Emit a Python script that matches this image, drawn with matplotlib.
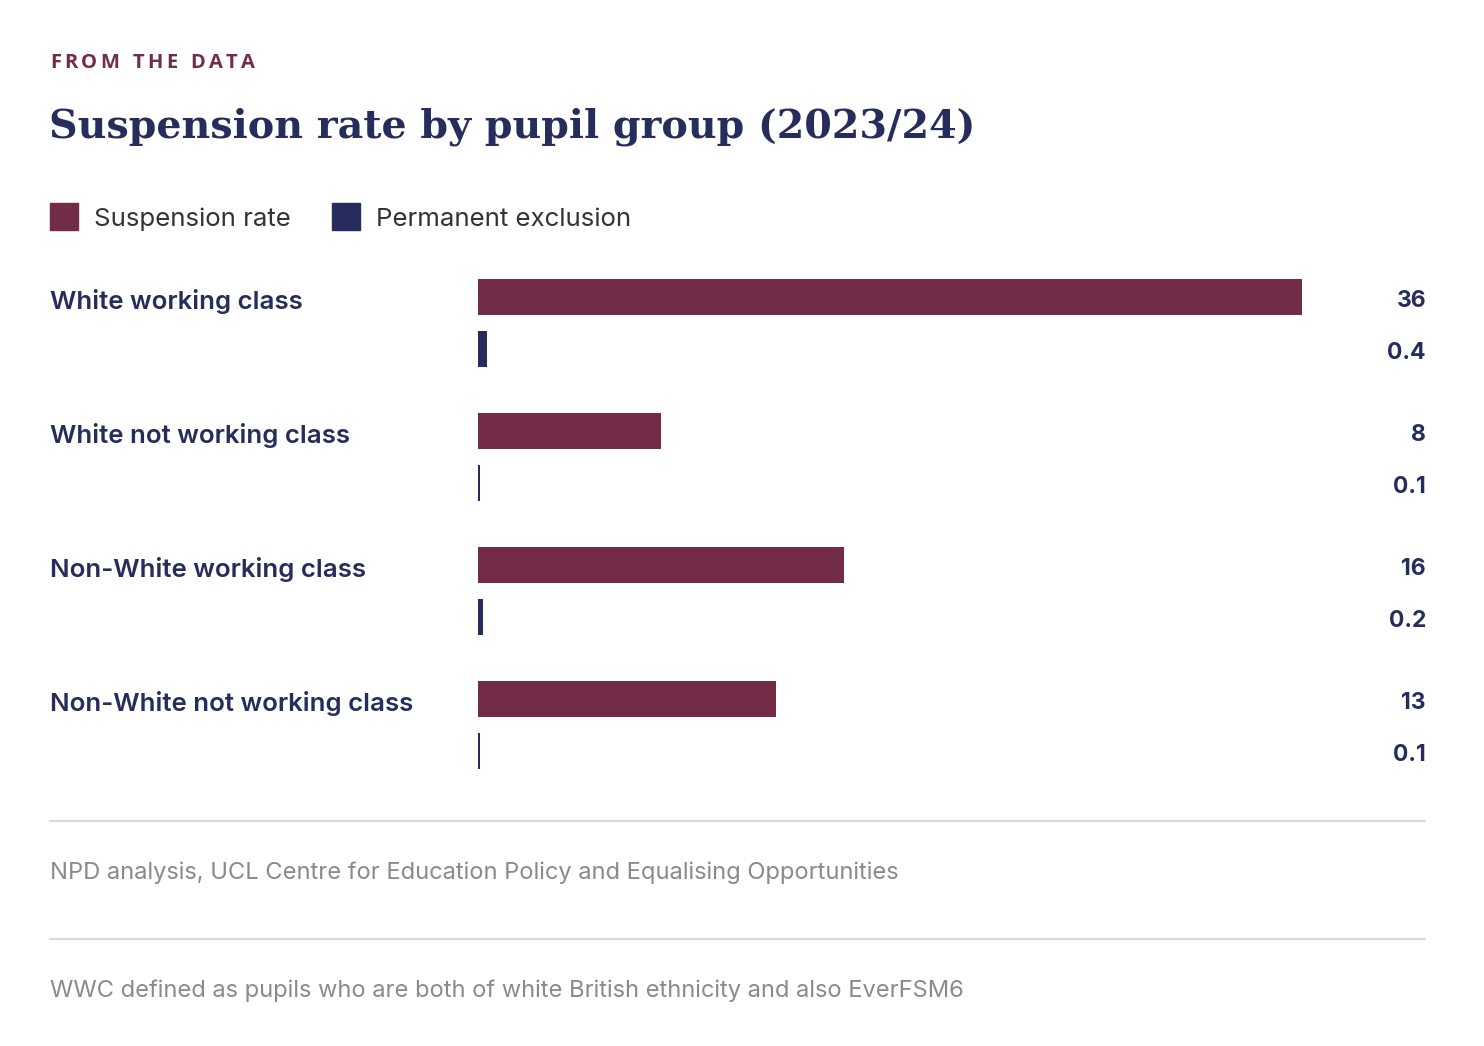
import matplotlib.pyplot as plt
from matplotlib.transforms import blended_transform_factory

# data
groups = ["White working class", "White not working class",
          "Non-White working class", "Non-White not working class"]
suspension = [36, 8, 16, 13]
exclusion = [0.4, 0.1, 0.2, 0.1]
susp_labels = ["36", "8", "16", "13"]
excl_labels = ["0.4", "0.1", "0.2", "0.1"]

MAROON = "#722C48"
NAVY = "#262C5B"
GREY = "#8a8a8a"

W, H = 1484, 1046
fig = plt.figure(figsize=(W / 100, H / 100), dpi=100)


def fx(px):
    return px / W


def fy(py):
    return 1 - py / H


def spaced_text(x, y, s, spacing, **kw):
    # draw text char by char so we get letter spacing
    renderer = fig.canvas.get_renderer()
    cur = x
    for ch in s:
        t = fig.text(fx(cur), fy(y), ch, va="baseline", ha="left", **kw)
        bb = t.get_window_extent(renderer)
        cur += bb.width + spacing
        if ch == " ":
            cur += 2


spaced_text(50, 68, "FROM THE DATA", 3.2, color=MAROON, fontsize=14.5,
            fontweight="bold", family="Open Sans")

fig.text(fx(49), fy(137), "Suspension rate by pupil group (2023/24)",
         color=NAVY, fontsize=28.5, fontweight="bold", family="DejaVu Serif",
         va="baseline", ha="left")

# legend
for x0, col, lab in [(50, MAROON, "Suspension rate"), (332, NAVY, "Permanent exclusion")]:
    fig.patches.append(plt.Rectangle((fx(x0), fy(230)), 28 / W, 27 / H,
                                     transform=fig.transFigure, color=col))
    fig.text(fx(x0 + 44), fy(219), lab, color="#333333", fontsize=18.6,
             family="Inter", va="center", ha="left")

# bars
top, bottom = 256, 792
ax = fig.add_axes([fx(478), fy(bottom), (1302 - 478) / W, (bottom - top) / H])
ypos = list(range(len(groups)))
off = 0.194
bh = 0.27
ax.barh([y - off for y in ypos], suspension, height=bh, color=MAROON)
ax.barh([y + off for y in ypos], exclusion, height=bh, color=NAVY)
ax.set_xlim(0, 36)
ax.set_ylim(3.5, -0.5)
ax.axis("off")

trans = blended_transform_factory(fig.transFigure, ax.transData)
for i, g in enumerate(groups):
    ax.text(fx(50), i - off + 0.035, g, transform=trans, color=NAVY, fontsize=18.6,
            fontweight="semibold", family="Inter", va="center", ha="left")
    ax.text(fx(1426), i - off + 0.03, susp_labels[i], transform=trans, color=NAVY,
            fontsize=16.5, fontweight="bold", family="Inter", va="center", ha="right")
    ax.text(fx(1426), i + off + 0.03, excl_labels[i], transform=trans, color=NAVY,
            fontsize=16.5, fontweight="bold", family="Inter", va="center", ha="right")

# footer
for ly in (821, 939):
    fig.add_artist(plt.Line2D([fx(50), fx(1425)], [fy(ly), fy(ly)],
                              color="#d9d9d9", lw=1.5))
fig.text(fx(50), fy(873), "NPD analysis, UCL Centre for Education Policy and Equalising Opportunities",
         color=GREY, fontsize=17.05, family="Inter", va="center", ha="left")
fig.text(fx(50), fy(991), "WWC defined as pupils who are both of white British ethnicity and also EverFSM6",
         color=GREY, fontsize=17.05, family="Inter", va="center", ha="left")

fig.savefig("out.png", dpi=100, facecolor="white")
